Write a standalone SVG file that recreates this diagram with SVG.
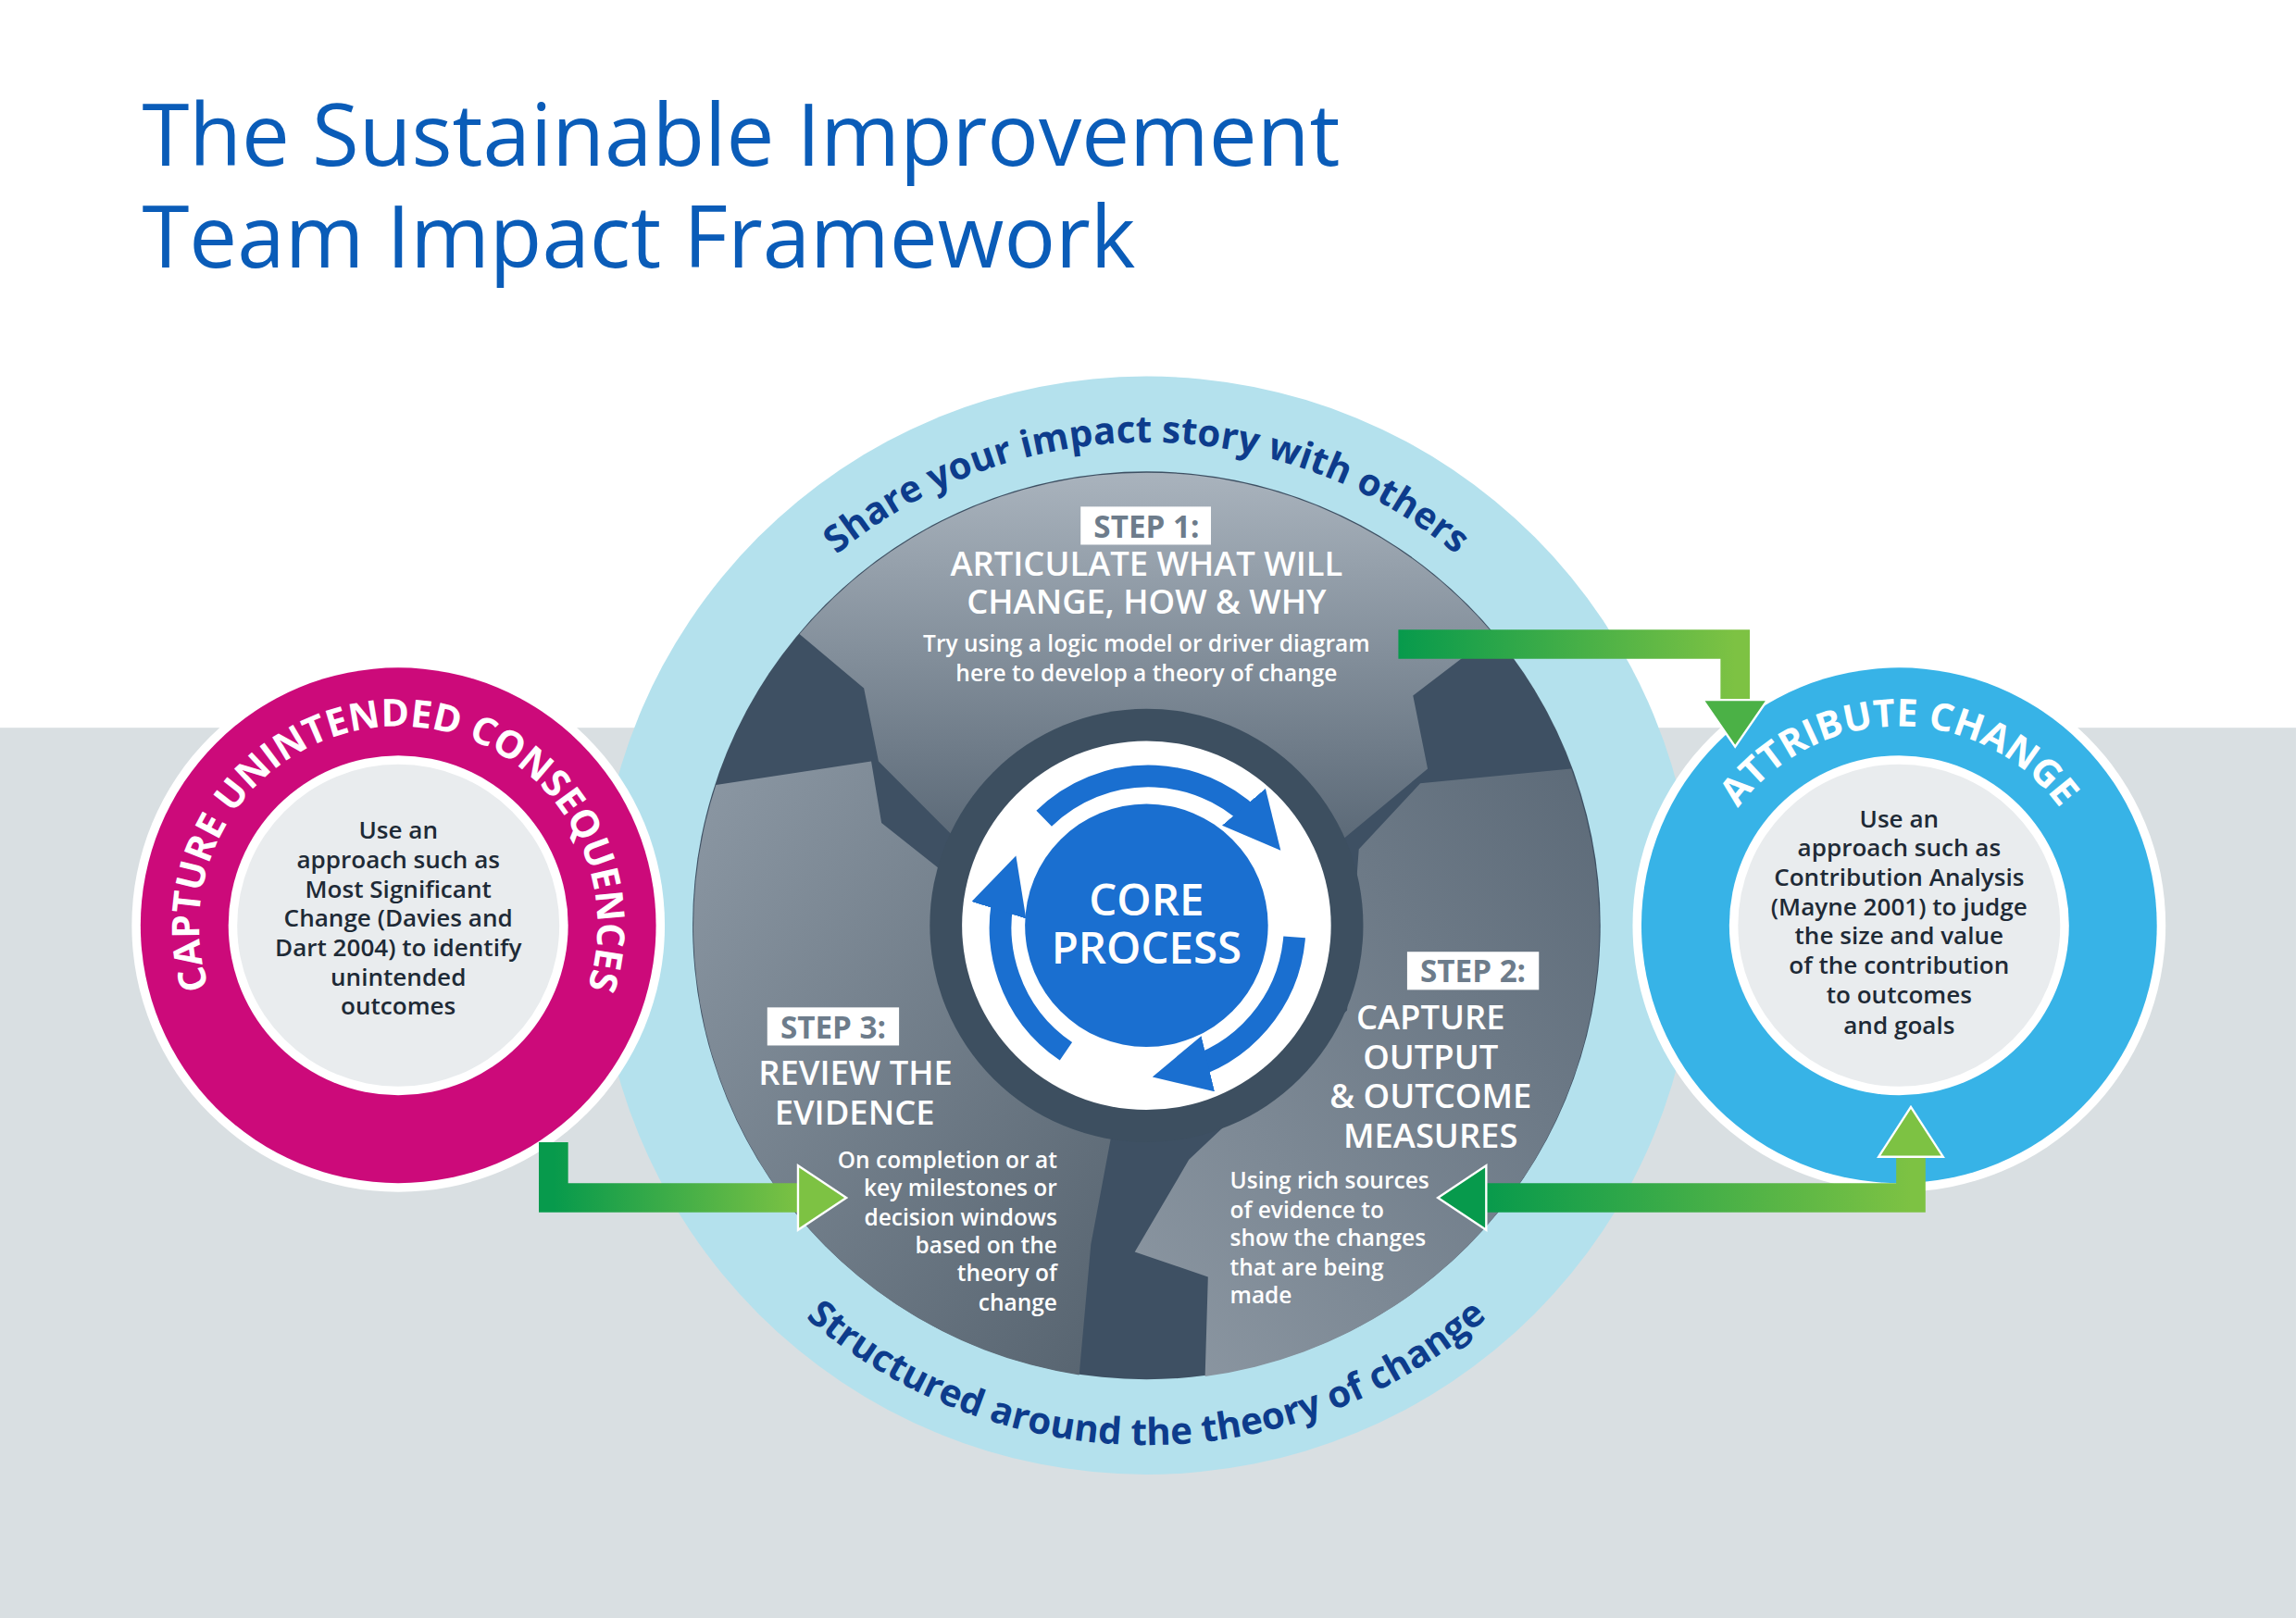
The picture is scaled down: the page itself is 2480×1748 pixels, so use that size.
<svg xmlns="http://www.w3.org/2000/svg" width="2480" height="1748" viewBox="0 0 2480 1748">
<defs>
<style>
.t{font-family:"Open Sans","Liberation Sans",sans-serif}
.w{fill:#fff;font-weight:600}
.s{fill:#6d7c8b;font-weight:700;font-size:21px}
.b{fill:#1e2a36;font-weight:600;font-size:16.5px}
.arc{fill:#0d3c8c;font-weight:700;font-size:25.5px}
.ring{fill:#fff;font-weight:700;font-size:26px}
</style>
<linearGradient id="gt" x1="0" y1="0" x2="0" y2="1"><stop offset="0" stop-color="#a9b3bd"/><stop offset="1" stop-color="#5b6977"/></linearGradient>
<linearGradient id="gl" x1="0" y1="0" x2="1" y2="1"><stop offset="0" stop-color="#8c98a4"/><stop offset="1" stop-color="#56636f"/></linearGradient>
<linearGradient id="gr" x1="1" y1="0" x2="0" y2="1"><stop offset="0" stop-color="#5c6a78"/><stop offset="1" stop-color="#8d98a3"/></linearGradient>
<linearGradient id="gg" x1="0" y1="0" x2="1" y2="0"><stop offset="0" stop-color="#079a4c"/><stop offset="1" stop-color="#7dc243"/></linearGradient>
<marker id="ah" viewBox="0 0 10 10" refX="5" refY="5" markerWidth="2.6" markerHeight="2.6" orient="auto" markerUnits="strokeWidth"><path d="M0,0 L10,5 L0,10 z" fill="#1a6fd0"/></marker>
<path id="pTop" d="M453,632 A330 330 0 0 1 1113,632"/>
<path id="pBot" d="M428,632 A355 355 0 0 0 1138,632"/>
<path id="pL" d="M272,768 A136 136 0 1 1 272,496 A136 136 0 1 1 272,768"/>
<path id="pR" d="M1297,768 A136 136 0 1 1 1297,496 A136 136 0 1 1 1297,768"/>
</defs>
<g transform="scale(1.5816,1.5819)">
<rect x="0" y="0" width="1568" height="1105" fill="#fff"/>
<rect x="0" y="497" width="1568" height="608" fill="#d9dfe2"/>
<g id="title" class="t" fill="#0a5cb8" font-size="58.5">
<text x="97" y="113">The Sustainable Improvement</text>
<text x="97" y="183">Team Impact Framework</text>
</g>
<g id="core">
<circle cx="783" cy="632" r="375" fill="#b4e1ed"/>
<circle cx="783" cy="632" r="310" fill="#3e5063"/>
<path d="M546,433 A310 310 0 0 1 1020,433 L965,475 L975,525 L915,575 L800,500 L650,570 L600,520 L590,470 Z" fill="url(#gt)"/>
<path d="M1073,525 A310 310 0 0 1 823,940 L825,872 L775,855 L812,792 L920,690 L928,580 L970,535 Z" fill="url(#gr)"/>
<path d="M737,939 A310 310 0 0 1 489,536 L595,520 L602,562 L650,600 L760,770 L745,850 Z" fill="url(#gl)"/>
<circle cx="783" cy="632" r="148" fill="#3d4f60"/>
<circle cx="783" cy="632" r="126" fill="#fff"/>
<g fill="none" stroke="#1a6fd0" stroke-width="15" marker-end="url(#ah)">
<path d="M713,559 A102 102 0 0 1 862,566"/>
<path d="M884,640 A102 102 0 0 1 806,731"/>
<path d="M728,718 A102 102 0 0 1 688,603"/>
</g>
<circle cx="783" cy="632" r="83" fill="#1a6fd0"/>
<text class="t w" font-size="30" text-anchor="middle" x="783" y="625">CORE</text>
<text class="t w" font-size="30" text-anchor="middle" x="783" y="658">PROCESS</text>
<text class="t arc"><textPath href="#pTop" startOffset="50%" text-anchor="middle">Share your impact story with others</textPath></text>
<text class="t arc"><textPath href="#pBot" startOffset="50%" text-anchor="middle">Structured around the theory of change</textPath></text>
</g>
<g id="step1" class="t">
<rect x="738" y="346" width="89" height="26" fill="#fff"/>
<text class="s" x="783" y="367" text-anchor="middle">STEP 1:</text>
<text class="w" font-size="23" x="783" y="393" text-anchor="middle">ARTICULATE WHAT WILL</text>
<text class="w" font-size="23" x="783" y="419" text-anchor="middle">CHANGE, HOW &amp; WHY</text>
<text class="w" font-size="15.5" x="783" y="445" text-anchor="middle">Try using a logic model or driver diagram</text>
<text class="w" font-size="15.5" x="783" y="465" text-anchor="middle">here to develop a theory of change</text>
</g>
<g id="step2" class="t">
<rect x="961" y="650" width="90" height="26" fill="#fff"/>
<text class="s" x="1006" y="671" text-anchor="middle">STEP 2:</text>
<g class="w" font-size="23" text-anchor="middle">
<text x="977" y="703">CAPTURE</text><text x="977" y="730">OUTPUT</text><text x="977" y="757">&amp; OUTCOME</text><text x="977" y="784">MEASURES</text>
</g>
<g class="w" font-size="15.5">
<text x="840" y="812">Using rich sources</text><text x="840" y="832">of evidence to</text><text x="840" y="851">show the changes</text><text x="840" y="871">that are being</text><text x="840" y="890">made</text>
</g>
</g>
<g id="step3" class="t">
<rect x="524" y="688" width="90" height="26" fill="#fff"/>
<text class="s" x="569" y="709" text-anchor="middle">STEP 3:</text>
<text class="w" font-size="23" x="518" y="741">REVIEW THE</text>
<text class="w" font-size="23" x="529" y="768">EVIDENCE</text>
<g class="w" font-size="15.5" text-anchor="end">
<text x="722" y="798">On completion or at</text><text x="722" y="817">key milestones or</text><text x="722" y="837">decision windows</text><text x="722" y="856">based on the</text><text x="722" y="875">theory of</text><text x="722" y="895">change</text>
</g>
</g>
<g id="unintended" class="t">
<circle cx="272" cy="632" r="182" fill="#fff"/>
<circle cx="272" cy="632" r="176" fill="#cc0a7a"/>
<circle cx="272" cy="632" r="116" fill="#fff"/>
<circle cx="272" cy="632" r="110" fill="#e9ecee"/>
<text class="ring"><textPath href="#pL" startOffset="50%" text-anchor="middle">CAPTURE UNINTENDED CONSEQUENCES</textPath></text>
<g class="b" text-anchor="middle">
<text x="272" y="573">Use an</text><text x="272" y="593">approach such as</text><text x="272" y="613">Most Significant</text><text x="272" y="633">Change (Davies and</text><text x="272" y="653">Dart 2004) to identify</text><text x="272" y="673">unintended</text><text x="272" y="693">outcomes</text>
</g>
</g>
<g id="attribute" class="t">
<circle cx="1297" cy="632" r="182" fill="#fff"/>
<circle cx="1297" cy="632" r="176" fill="#37b3e7"/>
<circle cx="1297" cy="632" r="116" fill="#fff"/>
<circle cx="1297" cy="632" r="110" fill="#e9ecee"/>
<text class="ring"><textPath href="#pR" startOffset="50%" text-anchor="middle">ATTRIBUTE CHANGE</textPath></text>
<g class="b" text-anchor="middle">
<text x="1297" y="565">Use an</text><text x="1297" y="585">approach such as</text><text x="1297" y="605">Contribution Analysis</text><text x="1297" y="625">(Mayne 2001) to judge</text><text x="1297" y="645">the size and value</text><text x="1297" y="665">of the contribution</text><text x="1297" y="685">to outcomes</text><text x="1297" y="706">and goals</text>
</g>
</g>
<g id="connectors" fill="none" stroke="url(#gg)" stroke-width="20" stroke-linejoin="miter">
<polyline points="955,440 1185,440 1185,480"/>
<polygon points="1163,478 1207,478 1185,510" fill="#4bb146" stroke="#fff" stroke-width="1.5"/>
<polyline points="378,780 378,818 548,818"/>
<polygon points="545,796 545,840 578,818" fill="#7dc243" stroke="#fff" stroke-width="1.5"/>
<polyline points="1305,785 1305,818 1012,818"/>
<polygon points="1283,790 1327,790 1305,756" fill="#7dc243" stroke="#fff" stroke-width="1.5"/>
<polygon points="1015,796 1015,840 982,818" fill="#079a4c" stroke="#fff" stroke-width="1.5"/>
</g>
</g>
</svg>
